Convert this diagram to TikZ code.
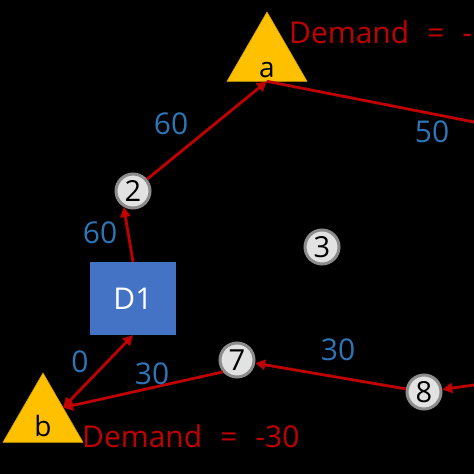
\documentclass[tikz,border=0pt]{standalone}
\usepackage{fontspec}
\setmainfont{Open Sans}
\usetikzlibrary{shapes.geometric,arrows.meta}
\definecolor{flowred}{HTML}{C00000}
\definecolor{qtyblue}{HTML}{2E75B6}
\definecolor{depotblue}{HTML}{4472C4}
\definecolor{termgold}{HTML}{FFC000}
\definecolor{ringgray}{HTML}{8C8C8C}
\definecolor{diskgray}{HTML}{E2E2E2}

\begin{document}
\begin{tikzpicture}[x=1pt, y=-1pt,
    >={Triangle[length=10pt,width=10pt]},
    junction/.style={circle, draw=ringgray, line width=3pt, fill=diskgray,
      minimum size=34pt, inner sep=0pt, font=\fontsize{29}{30}\selectfont},
    terminal/.style={regular polygon, regular polygon sides=3, minimum size=92.4pt,
      inner sep=0pt, outer sep=0pt, fill=termgold, draw=termgold!85!black, line width=0.6pt},
    flow/.style={draw=flowred, line width=2.8pt, ->},
    qty/.style={text=qtyblue, font=\fontsize{30}{36}\selectfont},
    demand/.style={text=flowred, font=\fontsize{30}{36}\selectfont, anchor=base west, inner sep=0pt}]
    \fill [black] (0,0) rectangle (474,474);
    \useasboundingbox (0,0) rectangle (474,474);

    % terminals and depot
    \node [terminal, label={[anchor=base, inner sep=0pt, yshift=4pt, font=\fontsize{28}{30}\selectfont]south:a}] (a) at (267,58.2) {};
    \node [terminal, label={[anchor=base, inner sep=0pt, yshift=6pt, font=\fontsize{28}{30}\selectfont]south:b}] (b) at (43,419.2) {};
    \node [fill=depotblue, text=white, minimum width=86pt, minimum height=73pt, inner sep=0pt,
           font=\fontsize{30}{36}\selectfont] (D1) at (133,298.5) {D1};

    % numbered nodes
    \node [junction] (n2) at (133,191) {2};
    \node [junction] (n3) at (322,247) {3};
    \node [junction] (n7) at (237,360) {7};
    \node [junction] (n8) at (424,392) {8};

    \coordinate (outR) at (474,122);
    \coordinate (inR) at (474,385);

    % flows
    \draw [flow] (D1.north) -- (n2.240);
    \draw [flow] (n2.40) -- (a.south);
    \draw [flow, -] (a.south) -- (outR);
    \draw [flow, <->] (b.side 3) -- (D1.south);
    \draw [flow] (n7.220) -- (b.side 3);
    \draw [flow] (n8) -- (n7);
    \draw [flow] (inR) -- (n8);

    % amounts
    \path (171,124) node [qty] (q2a) {60}
          (432,132) node [qty] (qaR) {50}
          (100,233) node [qty] (qD2) {60}
          (80,362)  node [qty] (qbD) {0}
          (152,374) node [qty] (q7b) {30}
          (338,350) node [qty] (q87) {30};

    \node [demand] (dmdA) at (289,43) {Demand\hspace{0.6em}=\hspace{0.6em}-};
    \node [demand] (dmdB) at (82,447) {Demand\hspace{0.6em}=\hspace{0.6em}-30};
\end{tikzpicture}
\end{document}
